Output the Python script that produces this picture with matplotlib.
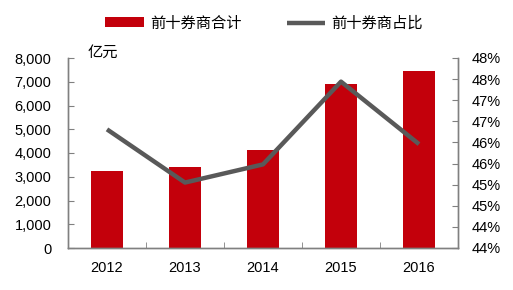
import numpy as np
import matplotlib
matplotlib.use('Agg')
import matplotlib.pyplot as plt
from matplotlib.ticker import FixedLocator, FuncFormatter

plt.rcParams['font.family'] = ['Liberation Sans', 'Noto Sans CJK SC', 'DejaVu Sans']

# Data
years = ['2012', '2013', '2014', '2015', '2016']
top10_total = [3230, 3410, 4120, 6900, 7440]       # 亿元
top10_share = [46.41, 45.15, 45.58, 47.54, 46.06]  # %
share_ticks = [43.6, 44.1, 44.6, 45.1, 45.6, 46.1, 46.6, 47.1, 47.6, 48.1]

bar_color = '#C3000B'
line_color = '#595959'
axis_color = '#808080'

fig = plt.figure(figsize=(5.13, 2.90), dpi=100)
ax = fig.add_axes([68 / 513, 42 / 290, 390 / 513, 190 / 290])
x = np.arange(len(years))

ax.bar(x, top10_total, width=0.41, color=bar_color, zorder=2, label='前十券商合计')
ax.set_xlim(-0.5, 4.5)
ax.set_ylim(0, 8000)
ax.set_yticks(np.arange(0, 8001, 1000))
ax.yaxis.set_major_formatter(FuncFormatter(lambda v, p: f'{int(v):,}'))
ax.set_xticks(x)
ax.set_xticklabels(years)
ax.xaxis.set_minor_locator(FixedLocator([0.5, 1.5, 2.5, 3.5]))
ax.tick_params(axis='x', which='major', length=0, pad=9, labelsize=10.5)
ax.tick_params(axis='x', which='minor', direction='in', length=4, color=axis_color)
ax.tick_params(axis='y', direction='in', length=4, color=axis_color, labelsize=10.5, pad=12)

ax2 = ax.twinx()
ax2.plot(x, top10_share, color=line_color, linewidth=3.2, zorder=3, label='前十券商占比',
         solid_capstyle='butt')
ax2.set_ylim(43.6, 48.1)
ax2.set_yticks(share_ticks)
ax2.yaxis.set_major_formatter(FuncFormatter(lambda v, p: f'{v:.0f}%'))
ax2.tick_params(axis='y', direction='in', length=4, color=axis_color, labelsize=10.5, pad=10)

for a in (ax, ax2):
    a.spines['top'].set_visible(False)
    for s in ('left', 'right', 'bottom'):
        a.spines[s].set_color(axis_color)
        a.spines[s].set_linewidth(1.0)

ax.text(0.05, 1.03, '亿元', transform=ax.transAxes, fontsize=11,
        family=['Noto Sans CJK SC', 'DejaVu Sans'], va='center', ha='left')

h1, l1 = ax.get_legend_handles_labels()
h2, l2 = ax2.get_legend_handles_labels()
fig.legend(h1 + h2, l1 + l2, loc='center', bbox_to_anchor=(0.515, 0.92),
           ncol=2, frameon=False, prop={'family': ['Noto Sans CJK SC'], 'size': 11},
           handlelength=2.5, handleheight=0.6, columnspacing=3.0, handletextpad=0.4)

fig.savefig('out.png', dpi=100)
